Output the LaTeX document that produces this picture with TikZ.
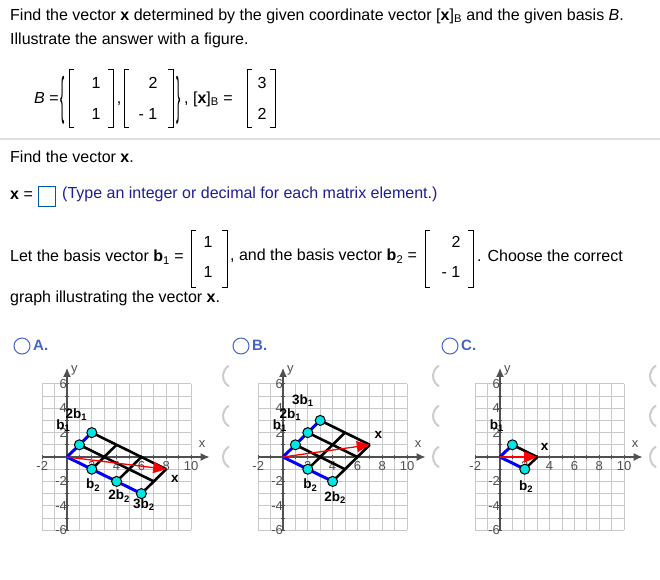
\documentclass[tikz,border=0pt]{standalone}
\usepackage{fontspec}
\setmainfont{Liberation Sans}
\usetikzlibrary{arrows.meta}
\definecolor{gridc}{RGB}{200,200,200}
\definecolor{axc}{RGB}{80,80,80}
\definecolor{qblue}{RGB}{30,30,150}
\definecolor{optb}{RGB}{70,100,200}
\definecolor{cyanpt}{RGB}{0,230,230}
\newcommand{\mybrack}[4]{% x1 x2 ytop ybot
  \draw[line width=1pt] (#1+5,#3) -- (#1,#3) -- (#1,#4) -- (#1+5,#4);
  \draw[line width=1pt] (#2-5,#3) -- (#2,#3) -- (#2,#4) -- (#2-5,#4);}
\newcommand{\panelgrid}{%
  \draw[gridc,line width=0.9pt,step={(1,1)}] (-2,-6) grid (10,6);
  \draw[axc,line width=1.3pt,-{Latex[length=9pt,width=8pt]}] (-2,0) -- (11.5,0);
  \draw[axc,line width=1.3pt,-{Latex[length=9pt,width=8pt]}] (0,-6) -- (0,7.3);
  \foreach \t in {-2,...,10}{\draw[axc,line width=1pt] (\t,-0.2) -- (\t,0.2);}
  \foreach \t in {-6,...,6}{\draw[axc,line width=1pt] (-0.2,\t) -- (0.2,\t);}
  \foreach \t in {-2,2,4,6,8,10}{\node[tk] at (\t,-0.75) {\t};}
  \foreach \t in {-6,-4,-2,2,4,6}{\node[tk,anchor=east] at (0.05,\t) {\t};}
  \node[tk] at (10.9,1.1) {x};
  \node[tk] at (0.6,7.1) {y};}
\tikzset{
  tk/.style={font=\fontsize{13}{14}\selectfont,text=axc,inner sep=0.5pt},
  lb/.style={font=\fontsize{13.5}{14}\selectfont\bfseries,inner sep=0.5pt},
  pt/.style={circle,draw=black,fill=cyanpt,line width=1pt,minimum size=10pt,inner sep=0pt},
  blk/.style={line width=2.6pt,black},
  blu/.style={line width=3pt,blue},
  xa/.style={red,line width=1.3pt,-{Triangle[length=13pt,width=11pt]}},
  opt/.style={circle,draw=optb,line width=1pt,minimum size=16pt,inner sep=0pt},
  ghost/.style={gray!40,line width=2pt},
  tx/.style={font=\fontsize{16}{18}\selectfont,inner sep=0pt,anchor=west},
  br/.style={font=\fontsize{16}{18}\selectfont\lightweight,inner sep=0pt,yscale=3.2,xscale=0.8}
}
\newcommand{\lightweight}{}
\begin{document}
\begin{tikzpicture}[x=1pt,y=-1pt]
\useasboundingbox (0,0) rectangle (660,579);
\fill[white] (0,0) rectangle (660,579);
% header
\node[tx] (t1) at (10,16) {Find the vector \textbf{x} determined by the given coordinate vector [\textbf{x}]\textsubscript{B} and the given basis \textit{B}.};
\node[tx] (t2) at (10,40) {Illustrate the answer with a figure.};
\node[tx] (bq) at (34,98) {\textit{B} =};
\node[br] (lb1) at (63,100) {\{};
\mybrack{69}{113}{69}{127}
\node[tx,anchor=center] (m11) at (96,83) {1};
\node[tx,anchor=center] (m12) at (96,114) {1};
\node[tx,anchor=center] (cm) at (119,104) {,};
\mybrack{124}{173}{69}{127}
\node[tx,anchor=center] (m21) at (153,83) {2};
\node[tx,anchor=center] (m22) at (148,114) {- 1};
\node[br] (rb1) at (179,100) {\}};
\node[tx] (xb) at (184,99) {, [\textbf{x}]\textsubscript{B} =};
\mybrack{247}{275}{69}{127}
\node[tx,anchor=center] (m31) at (262,83) {3};
\node[tx,anchor=center] (m32) at (262,114) {2};
\draw[gray!25,line width=1.2pt] (0,139) -- (660,139);
\node[tx] (fv) at (10,157) {Find the vector \textbf{x}.};
\node[tx] (xe) at (10,195) {\textbf{x} =};
\draw[teal!70!blue,line width=1pt] (38,186) rectangle (55,206);
\node[tx,text=qblue] (ty) at (62,194) {(Type an integer or decimal for each matrix element.)};
\node[tx] (lt) at (10,257) {Let the basis vector \textbf{b}\textsubscript{1} =};
\mybrack{191}{227}{230}{287}
\node[tx,anchor=center] (n11) at (208,242) {1};
\node[tx,anchor=center] (n12) at (208,272) {1};
\node[tx] (an) at (230,256) {, and the basis vector \textbf{b}\textsubscript{2} =};
\mybrack{425}{473}{230}{287}
\node[tx,anchor=center] (n21) at (456,242) {2};
\node[tx,anchor=center] (n22) at (451,272) {- 1};
\node[tx] (ch) at (477,256) {. Choose the correct};
\node[tx] (gi) at (10,298) {graph illustrating the vector \textbf{x}.};
% options
\node[opt] (oa) at (22,346) {};
\node[tx,text=optb,font=\fontsize{15}{17}\selectfont\bfseries] (la) at (33,345) {A.};
\node[opt] (ob) at (241,346) {};
\node[tx,text=optb,font=\fontsize{15}{17}\selectfont\bfseries] (lbb) at (252,345) {B.};
\node[opt] (oc) at (450,346) {};
\node[tx,text=optb,font=\fontsize{15}{17}\selectfont\bfseries] (lc) at (461,345) {C.};
% ghost buttons
\foreach \cx in {235,445,662}{\foreach \cy in {376,416,457}{
  \draw[ghost] (\cx,\cy) ++(120:12) arc[start angle=120,end angle=240,radius=12];}}
% panel A
\begin{scope}[shift={(67,457)},x=12.4pt,y=12.2pt]
\panelgrid
\draw[blk] (1,1) -- (7,-2); \draw[blk] (2,2) -- (8,-1);
\draw[blk] (2,-1) -- (4,1); \draw[blk] (4,-2) -- (6,0); \draw[blk] (6,-3) -- (8,-1);
\draw[blu] (0,0) -- (2,2); \draw[blu] (0,0) -- (6,-3);
\draw[xa] (0,0) -- (8,-1);
\node[pt] (a1) at (1,1) {}; \node[pt] (a2) at (2,2) {};
\node[pt] (a3) at (2,-1) {}; \node[pt] (a4) at (4,-2) {}; \node[pt] (a5) at (6,-3) {};
\node[lb] at (0.75,3.5) {2b\textsubscript{1}};
\node[lb] at (-0.3,2.6) {b\textsubscript{1}};
\node[lb] at (2.1,-2.3) {b\textsubscript{2}};
\node[lb] at (4.2,-3.2) {2b\textsubscript{2}};
\node[lb] at (6.2,-3.9) {3b\textsubscript{2}};
\node[lb] at (8.7,-1.8) {x};
\end{scope}
% panel B
\begin{scope}[shift={(283,457)},x=12.4pt,y=12.2pt]
\panelgrid
\draw[blk] (1,1) -- (5,-1); \draw[blk] (2,2) -- (6,0); \draw[blk] (3,3) -- (7,1);
\draw[blk] (2,-1) -- (5,2); \draw[blk] (4,-2) -- (7,1);
\draw[blu] (0,0) -- (3,3); \draw[blu] (0,0) -- (4,-2);
\draw[xa] (0,0) -- (7,1);
\node[pt] at (1,1) {}; \node[pt] at (2,2) {}; \node[pt] at (3,3) {};
\node[pt] at (2,-1) {}; \node[pt] at (4,-2) {};
\node[lb] at (1.6,4.6) {3b\textsubscript{1}};
\node[lb] at (0.6,3.5) {2b\textsubscript{1}};
\node[lb] at (-0.25,2.6) {b\textsubscript{1}};
\node[lb] at (2.2,-2.3) {b\textsubscript{2}};
\node[lb] at (4.2,-3.3) {2b\textsubscript{2}};
\node[lb] at (7.7,1.8) {x};
\end{scope}
% panel C
\begin{scope}[shift={(500,457)},x=12.4pt,y=12.2pt]
\panelgrid
\draw[blk] (1,1) -- (3,0); \draw[blk] (2,-1) -- (3,0);
\draw[blu] (0,0) -- (1,1); \draw[blu] (0,0) -- (2,-1);
\draw[xa] (0,0) -- (3,0);
\node[pt] at (1,1) {}; \node[pt] at (2,-1) {};
\node[lb] at (-0.25,2.6) {b\textsubscript{1}};
\node[lb] at (2.1,-2.4) {b\textsubscript{2}};
\node[lb] at (3.6,0.8) {x};
\end{scope}
\end{tikzpicture}
\end{document}
